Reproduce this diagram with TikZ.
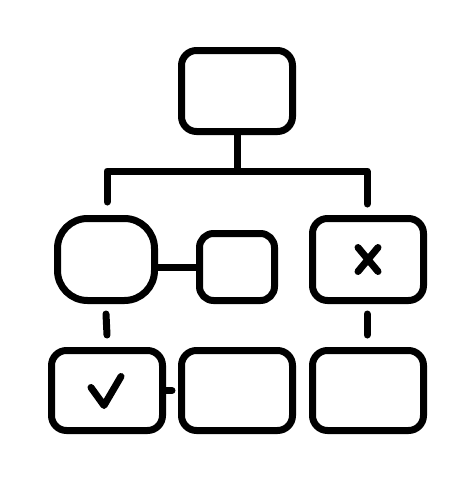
\documentclass[tikz,border=0pt]{standalone}
\usepackage{tikz}
\usetikzlibrary{positioning}

\tikzset{
  box/.style={draw, shape=rectangle, line width=7pt, inner sep=0pt,
    minimum width=111pt, minimum height=81pt, rounded corners=15pt},
  link/.style={line width=7pt, line cap=round}
}

\begin{document}
\begin{tikzpicture}[x=1pt, y=-1pt, line join=round]
  \useasboundingbox (0,0) rectangle (474,482);
  % top level
  \node (root) [box] at (237,91) {};
  % middle level
  \node (left) [box, minimum width=97pt, minimum height=82pt, rounded corners=30pt] at (106,259.5) {};
  \node (small) [box, minimum width=75pt, minimum height=67pt, rounded corners=14pt] at (237,267) {};
  \node (cross) [box, minimum height=82pt] at (368,259.5) {};
  % bottom level
  \node (ok) [box, minimum height=80pt] at (107,390.5) {};
  \node (mid) [box, minimum height=80pt] at (237,390.5) {};
  \node (right) [box, minimum height=80pt] at (368,390.5) {};

  \coordinate (bar) at (237,171);
  \coordinate (barl) at (107,171);
  \coordinate (barr) at (367,171);
  \coordinate (dropl) at (107,202);
  \coordinate (dropr) at (367,204);

  \draw[link] (root.south) -- (bar);
  \draw[link] (dropl) -- (barl) -- (barr) -- (dropr);
  \draw[link] (small.west) -- (small.west -| left.east);
  \draw[link] ([yshift=-10pt]left.south) -- ([yshift=12pt]ok.north);
  \draw[link] ([xshift=-1pt,yshift=-10pt]cross.south) -- ([xshift=-1pt,yshift=12pt]right.north);
  \draw[link] (ok.east) -- ([xshift=6pt]ok.east);

  % marks
  \draw[link] ([shift={(-16,-3)}]ok.center) -- ([shift={(-3,15)}]ok.center) -- ([shift={(14,-14)}]ok.center);
  \draw[link] ([shift={(-10,-12)}]cross.center) -- ([shift={(10,12)}]cross.center);
  \draw[link] ([shift={(-10,12)}]cross.center) -- ([shift={(10,-12)}]cross.center);
\end{tikzpicture}
\end{document}
